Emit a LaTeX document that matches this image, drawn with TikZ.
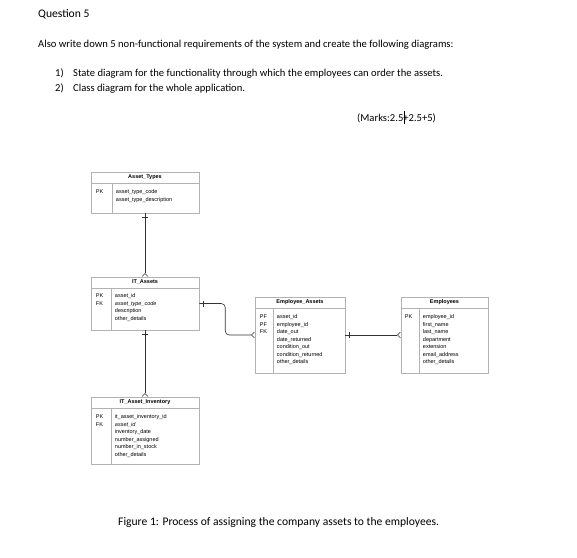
\documentclass[tikz,border=0pt]{standalone}
\usepackage{fontspec}
\setmainfont{Carlito}
\newfontfamily\erfont{Liberation Sans}
\usetikzlibrary{calc,arrows.meta,decorations.markings}

\begin{document}
\begin{tikzpicture}[x=1pt,y=-1pt,
        entity/.style={draw=gray!60,line width=0.5pt,inner sep=0pt},
        etitle/.style={font=\erfont\fontsize{5.5}{7}\selectfont\bfseries,inner sep=0pt},
        efield/.style={font=\erfont\fontsize{5.5}{7.5}\selectfont,align=left,anchor=north west,inner sep=0pt},
        rel/.style={draw=gray!40!black,line width=0.6pt,
            -{Straight Barb[reversed,length=3pt,width=6pt]},
            postaction={decorate,decoration={markings,
                mark=at position 4pt with {\draw[-] (0,-3pt) -- (0,3pt);}}}},
        qtext/.style={font=\fontsize{10.6}{13}\selectfont,anchor=base west,inner sep=0pt}]
    \useasboundingbox[fill=white] (0,0) rectangle (577,557);

    % question text
    \node[qtext,font=\fontsize{11.6}{13}\selectfont] (q) at (38,17) {Question 5};
    \node[qtext] (intro) at (38,47) {Also write down 5 non-functional requirements of the system and create the following diagrams:};
    \node[qtext] (n1) at (55,76) {1)};
    \node[qtext] (i1) at (73,76) {State diagram for the functionality through which the employees can order the assets.};
    \node[qtext] (n2) at (55,91) {2)};
    \node[qtext] (i2) at (73,91) {Class diagram for the whole application.};
    \node[qtext] (marks) at (357,121) {(Marks:2.5+2.5+5)};
    \draw[line width=0.6pt] (404,111) -- (404,124);

    % entities
    \node[entity,minimum width=108,minimum height=41] (at) at (145,192.5) {};
    \node[etitle] (at-t) at ($(at.north)+(0,5.5)$) {Asset\_Types};
    \draw[entity] ($(at.north west)+(0,11)$) -- ($(at.north east)+(0,11)$);
    \draw[entity] ($(at.north west)+(21,11)$) -- ($(at.south west)+(21,0)$);
    \node[efield] (at-k) at ($(at.north west)+(5,18)$) {PK};
    \node[efield] (at-f) at ($(at.north west)+(25,18)$) {asset\_type\_code\\asset\_type\_description};

    \node[entity,minimum width=108,minimum height=53] (ita) at (145,303.5) {};
    \node[etitle] (ita-t) at ($(ita.north)+(0,5.5)$) {IT\_Assets};
    \draw[entity] ($(ita.north west)+(0,11)$) -- ($(ita.north east)+(0,11)$);
    \draw[entity] ($(ita.north west)+(20,11)$) -- ($(ita.south west)+(20,0)$);
    \node[efield] (ita-k) at ($(ita.north west)+(5,17)$) {PK\\FK};
    \node[efield] (ita-f) at ($(ita.north west)+(24,17)$) {asset\_id\\\textit{asset\_type\_code}\\description\\other\_details};

    \node[entity,minimum width=108,minimum height=67] (inv) at (145,430.5) {};
    \node[etitle] (inv-t) at ($(inv.north)+(0,5.5)$) {IT\_Asset\_Inventory};
    \draw[entity] ($(inv.north west)+(0,11)$) -- ($(inv.north east)+(0,11)$);
    \draw[entity] ($(inv.north west)+(20,11)$) -- ($(inv.south west)+(20,0)$);
    \node[efield] (inv-k) at ($(inv.north west)+(5,18)$) {PK\\FK};
    \node[efield] (inv-f) at ($(inv.north west)+(24,18)$) {it\_asset\_inventory\_id\\\textit{asset\_id}\\inventory\_date\\number\_assigned\\number\_in\_stock\\other\_details};

    \node[entity,minimum width=90,minimum height=76] (ea) at (300,335) {};
    \node[etitle] (ea-t) at ($(ea.north)+(0,5.5)$) {Employee\_Assets};
    \draw[entity] ($(ea.north west)+(0,11)$) -- ($(ea.north east)+(0,11)$);
    \draw[entity] ($(ea.north west)+(18,11)$) -- ($(ea.south west)+(18,0)$);
    \node[efield] (ea-k) at ($(ea.north west)+(5,18)$) {PF\\PF\\FK};
    \node[efield] (ea-f) at ($(ea.north west)+(22,18)$) {asset\_id\\employee\_id\\date\_out\\date\_returned\\condition\_out\\condition\_returned\\other\_details};

    \node[entity,minimum width=87,minimum height=76] (emp) at (444.5,335) {};
    \node[etitle] (emp-t) at ($(emp.north)+(0,5.5)$) {Employees};
    \draw[entity] ($(emp.north west)+(0,11)$) -- ($(emp.north east)+(0,11)$);
    \draw[entity] ($(emp.north west)+(18,11)$) -- ($(emp.south west)+(18,0)$);
    \node[efield] (emp-k) at ($(emp.north west)+(4,18)$) {PK};
    \node[efield] (emp-f) at ($(emp.north west)+(22,18)$) {employee\_id\\first\_name\\last\_name\\department\\extension\\email\_address\\other\_details};

    % relationships
    \draw[rel] (at.south) -- (ita.north);
    \draw[rel] (ita.south) -- (inv.north);
    \draw[rel,rounded corners=4pt] (ita.east) -- ++(26,0) |- (ea.west);
    \draw[rel] (ea.east) -- (emp.west);

    \node[qtext,font=\fontsize{11.6}{13}\selectfont] (cap) at (118,525) {Figure 1: Process of assigning the company assets to the employees.};
\end{tikzpicture}
\end{document}
